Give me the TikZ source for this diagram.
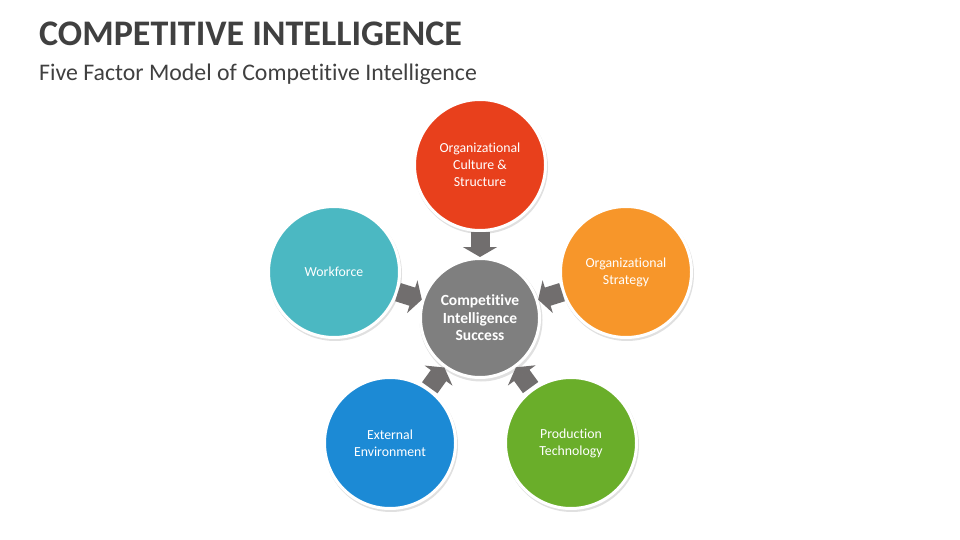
\documentclass[tikz,border=0pt]{standalone}
\usepackage{fontspec}
\setmainfont[Ligatures={NoCommon}]{Carlito}
\usetikzlibrary{calc,arrows.meta}
\definecolor{titlegray}{HTML}{404040}
\definecolor{cred}{HTML}{E8401C}
\definecolor{corange}{HTML}{F7962A}
\definecolor{cteal}{HTML}{4BB8C2}
\definecolor{cblue}{HTML}{1C8AD5}
\definecolor{cgreen}{HTML}{6AAE2A}
\definecolor{cgray}{HTML}{7F7F7F}
\definecolor{arrgray}{HTML}{716E6E}
\tikzset{
  factor/.style={circle, minimum size=131pt, inner sep=0pt, draw=white, line width=3pt,
     text=white, align=center, font=\fontsize{13.8}{17}\selectfont},
  hub/.style={circle, minimum size=119pt, inner sep=0pt, draw=white, line width=3pt, fill=cgray,
     text=white, align=center, font=\fontsize{15.5}{17.5}\selectfont\bfseries},
  shade/.style={fill=black, opacity=0.12},
  blockarr/.style={draw=arrgray, line width=19pt, -{Triangle[length=10pt,width=34pt]}, arrgray}
}
\begin{document}
\begin{tikzpicture}[x=1pt,y=-1pt]
\useasboundingbox (0,0) rectangle (960,540);
\fill[white] (0,0) rectangle (960,540);
\node[anchor=base west, inner sep=0pt, text=titlegray, font=\fontsize{36}{40}\selectfont\bfseries] (title) at (39,46) {COMPETITIVE INTELLIGENCE};
\node[anchor=base west, inner sep=0pt, text=titlegray, font=\fontsize{23.8}{28}\selectfont] (subtitle) at (39,81) {Five Factor Model of Competitive Intelligence};
% shadows
\fill[shade] (480,318) ++(1,2) circle (61.5);
\foreach \p in {(480,165),(626,272),(334,272),(390,443),(571,443)}{
  \fill[shade] \p ++(1,2) circle (67);
}
\node[hub] (c) at (480,318) {Competitive\\Intelligence\\Success};
\node[factor, fill=cred] (n1) at (480,165) {Organizational\\Culture \&\\Structure};
\node[factor, fill=corange] (n2) at (626,272) {Organizational\\Strategy};
\node[factor, fill=cgreen] (n3) at (571,443) {Production\\Technology};
\node[factor, fill=cblue] (n4) at (390,443) {External\\Environment};
\node[factor, fill=cteal] (n5) at (334,272) {Workforce};
\foreach \n in {n1,n2,n3,n4,n5}{
  \draw[blockarr] ($(c.center)!86pt!(\n.center)$) -- ($(c.center)!61pt!(\n.center)$);
}
\end{tikzpicture}
\end{document}
